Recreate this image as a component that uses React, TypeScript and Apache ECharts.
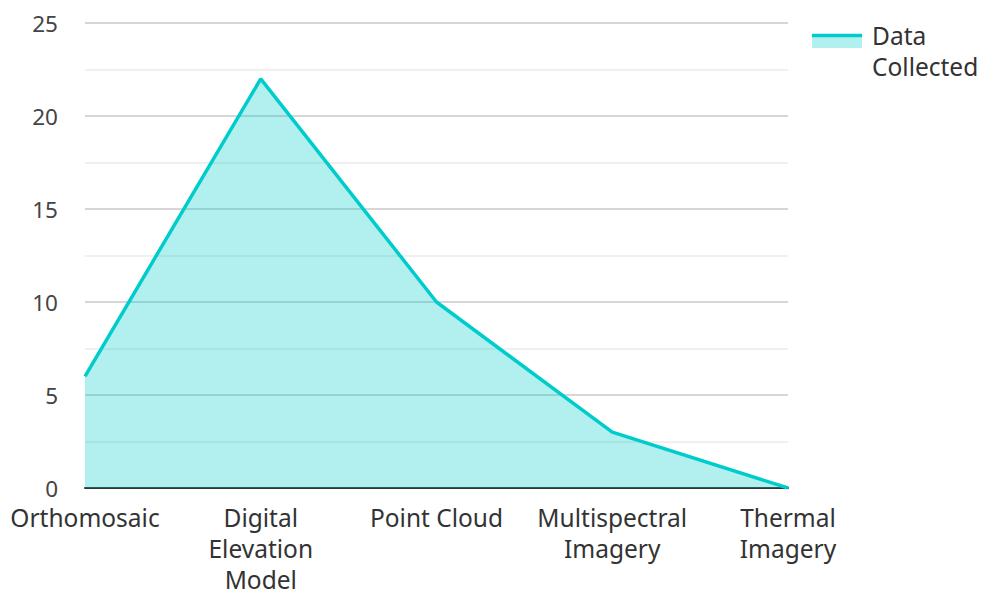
import React, { useEffect, useRef } from "react";
import * as echarts from "echarts";

const categories = [
  "Orthomosaic",
  "Digital\nElevation\nModel",
  "Point Cloud",
  "Multispectral\nImagery",
  "Thermal\nImagery",
];
const dataCollected = [6, 22, 10, 3, 0];
const seriesName = "Data Collected";
const legendLabel = "Data\nCollected";

const FONT = "'Noto Sans', 'Open Sans', sans-serif";
const LINE = "#00cccc";
const AREA = "rgba(0,204,204,0.3)";

export default function App() {
  const ref = useRef<HTMLDivElement>(null);
  useEffect(() => {
    if (!ref.current) return;
    const chart = echarts.init(ref.current, null, { renderer: "svg" });
    chart.setOption({
      animation: false,
      textStyle: { fontFamily: FONT },
      grid: { left: 85, right: 194, top: 23, bottom: 105, containLabel: false },
      xAxis: {
        type: "category",
        data: categories,
        boundaryGap: false,
        axisLine: { show: true, lineStyle: { color: "#333", width: 2 } },
        axisTick: { show: false },
        axisLabel: {
          color: "#333",
          fontSize: 24.5,
          lineHeight: 31,
          fontFamily: FONT,
          margin: 14,
          interval: 0,
        },
        splitLine: { show: false },
      },
      yAxis: {
        type: "value",
        min: 0,
        max: 25,
        interval: 5,
        axisLine: { show: false },
        axisTick: { show: false },
        axisLabel: {
          color: "#444",
          fontSize: 22.5,
          lineHeight: 18,
          fontFamily: FONT,
          margin: 27,
        },
        splitLine: { show: true, lineStyle: { color: "#c8c8c8", width: 1.5 } },
        minorTick: { show: false, splitNumber: 2 },
        minorSplitLine: { show: true, lineStyle: { color: "#ebebeb", width: 1.5 } },
      },
      series: [
        {
          name: seriesName,
          type: "line",
          data: dataCollected,
          showSymbol: false,
          symbol: "none",
          lineStyle: { color: LINE, width: 3.5 },
          itemStyle: { color: LINE },
          areaStyle: { color: AREA, opacity: 1 },
          z: 3,
        },
      ],
      graphic: [
        {
          type: "rect",
          shape: { x: 812, y: 35, width: 50, height: 13 },
          style: { fill: AREA },
        },
        {
          type: "line",
          shape: { x1: 812, y1: 35.5, x2: 862, y2: 35.5 },
          style: { stroke: LINE, lineWidth: 3.5 },
        },
        {
          type: "text",
          x: 872,
          y: 20,
          style: {
            text: legendLabel,
            fontSize: 24.5,
            lineHeight: 31,
            fontFamily: FONT,
            fill: "#333",
          },
        },
      ],
    });
    return () => chart.dispose();
  }, []);
  return <div ref={ref} style={{ width: 982, height: 595, position: "absolute", left: 0, top: 0 }} />;
}
